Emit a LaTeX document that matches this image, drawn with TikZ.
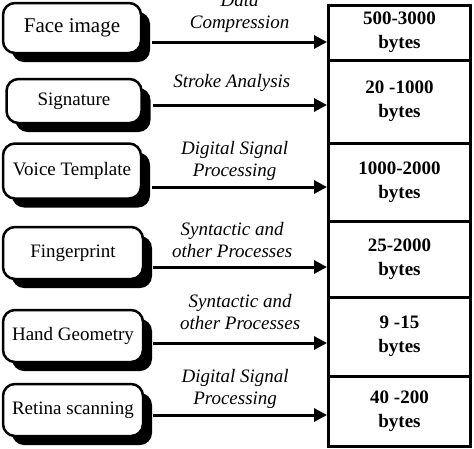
\documentclass[tikz,border=0pt]{standalone}
\usepackage{fontspec}
\setmainfont{Liberation Serif}
\usetikzlibrary{arrows.meta,shadows}

\tikzset{
  src/.style={draw, line width=2.5pt, rounded corners=12pt, fill=white,
    minimum width=138pt, minimum height=52pt, inner sep=2pt,
    font=\fontsize{19}{23}\selectfont,
    drop shadow={shadow xshift=9pt, shadow yshift=-9pt, opacity=1, fill=black}},
  cell/.style={draw, line width=3pt, minimum width=142pt, align=center,
    font=\fontsize{19}{24}\selectfont\bfseries},
  flow/.style={line width=3pt, -{Triangle[length=13pt,width=13pt]}},
  lbl/.style={align=center, inner sep=0pt, font=\fontsize{19}{22}\selectfont\itshape}
}

\begin{document}
\begin{tikzpicture}[x=1pt,y=-1pt]
  \useasboundingbox (0,0) rectangle (474,448);

  % biometric sources
  \node[src, minimum height=50pt, font=\fontsize{21}{24}\selectfont] (face) at (72,28) {Face image};
  \node[src, minimum width=135pt, minimum height=44pt] (sign) at (74,101) {Signature};
  \node[src, minimum height=55pt] (voice) at (72,171) {Voice Template};
  \node[src, minimum width=140pt] (finger) at (73,253) {Fingerprint};
  \node[src, minimum width=140pt] (hand) at (73,336) {Hand Geometry};
  \node[src, minimum width=140pt] (retina) at (73,410) {Retina scanning};

  % template sizes
  \node[cell, minimum height=55pt] (c1) at (399.5,32.5) {500-3000\\bytes};
  \node[cell, minimum height=83pt] (c2) at (399.5,101.5) {20 -1000\\bytes};
  \node[cell, minimum height=78pt] (c3) at (399.5,182) {1000-2000\\bytes};
  \node[cell, minimum height=76pt] (c4) at (399.5,259) {25-2000\\bytes};
  \node[cell, minimum height=79pt] (c5) at (399.5,336.5) {9 -15\\bytes};
  \node[cell, minimum height=70pt] (c6) at (399.5,411) {40 -200\\bytes};

  % arrow starts
  \coordinate (s1) at ([xshift=10pt,yshift=-14pt]face.east);
  \coordinate (s2) at ([xshift=10pt,yshift=-4pt]sign.east);
  \coordinate (s3) at ([xshift=10pt,yshift=-16pt]voice.east);
  \coordinate (s4) at ([xshift=9pt,yshift=-14pt]finger.east);
  \coordinate (s5) at ([xshift=9pt,yshift=-7pt]hand.east);
  \coordinate (s6) at ([xshift=9pt,yshift=-5pt]retina.east);

  \draw[flow] (s1) -- (s1 -| c1.west)
    node[lbl, midway, above=7.5pt] {Data\\Compression};
  \draw[flow] (s2) -- (s2 -| c2.west)
    node[lbl, midway, above=11.5pt, xshift=-8pt] {Stroke Analysis};
  \draw[flow] (s3) -- (s3 -| c3.west)
    node[lbl, midway, above=4.5pt, xshift=-5pt] {Digital Signal\\Processing};
  \draw[flow] (s4) -- (s4 -| c4.west)
    node[lbl, midway, above=7.5pt, xshift=-8pt] {Syntactic and\\other Processes};
  \draw[flow] (s5) -- (s5 -| c5.west)
    node[lbl, midway, above=11.5pt] {Syntactic and\\other Processes};
  \draw[flow] (s6) -- (s6 -| c6.west)
    node[lbl, midway, above=5pt, xshift=-5pt] {Digital Signal\\Processing};
\end{tikzpicture}
\end{document}
